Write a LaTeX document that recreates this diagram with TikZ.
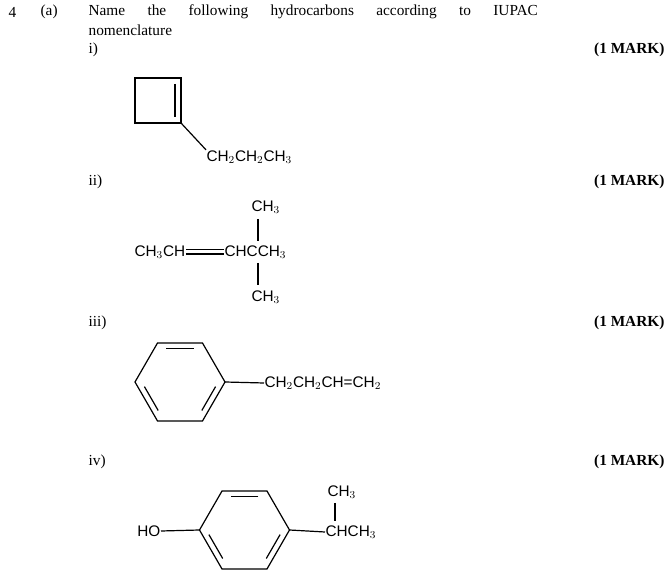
\documentclass[tikz,border=0pt]{standalone}
\usepackage{fontspec}
\setmainfont{Liberation Serif}
\newfontfamily\chemf{Liberation Sans}
\usetikzlibrary{calc}
\begin{document}
\begin{tikzpicture}[x=0.75pt,y=-0.75pt,line width=0.9pt,
 q/.style={font=\fontsize{11.5}{13}\selectfont,inner sep=0pt},
 mk/.style={q,anchor=east,font=\fontsize{11.5}{13}\selectfont\bfseries},
 ch/.style={font=\chemf\fontsize{11.5}{13}\selectfont,inner sep=0pt}]
\useasboundingbox (0,0) rectangle (669,577);
\node[q,anchor=west] (n4) at (8,12) {4};
\node[q,anchor=west] (na) at (40,12) {(a)};
\node[q,anchor=west] (t1) at (88,12) {\makebox[337pt][s]{Name the following hydrocarbons according to IUPAC}};
\node[q,anchor=west] (t2) at (88,30) {nomenclature};
\node[q,anchor=west] (r1) at (88,50) {i)};
\node[mk] (m1) at (665,50) {(1 MARK)};
\node[q,anchor=west] (r2) at (88,182) {ii)};
\node[mk] (m2) at (665,182) {(1 MARK)};
\node[q,anchor=west] (r3) at (88,323) {iii)};
\node[mk] (m3) at (665,323) {(1 MARK)};
\node[q,anchor=west] (r4) at (88,462) {iv)};
\node[mk] (m4) at (665,462) {(1 MARK)};
% i
\coordinate (c1) at (135,78); \coordinate (c2) at (181,78);
\coordinate (c3) at (181,123); \coordinate (c4) at (135,123);
\draw (c1)--(c2)--(c3)--(c4)--cycle;
\draw ([xshift=-4.5pt,yshift=-4.5pt]c2) -- ([xshift=-4.5pt,yshift=4.5pt]c3);
\node[ch,anchor=west] (p1) at (206,157) {CH$_2$CH$_2$CH$_3$};
\draw (c3) -- (p1.north west);
% ii
\node[ch,anchor=west] (a1) at (134,252) {CH$_3$CH};
\node[ch,anchor=west] (a2) at (224,252) {CHCCH$_3$};
\node[ch,anchor=west] (a3) at (251,207) {CH$_3$};
\node[ch,anchor=west] (a4) at (251,297) {CH$_3$};
\draw (258,219) -- (258,241);
\draw (258,263) -- (258,285);
\draw ([yshift=1.8pt]a1.east) -- ([yshift=1.8pt]a2.west);
\draw ([yshift=-1.5pt]a1.east) -- ([yshift=-1.5pt]a2.west);
% iii
\coordinate (bc) at (180,382);
\foreach \i/\a in {1/180,2/120,3/60,4/0,5/300,6/240}
  \coordinate (b\i) at ($(bc)+(\a:45)$);
\draw (b1)--(b2)--(b3)--(b4)--(b5)--(b6)--cycle;
\foreach \p/\q in {b1/b2,b3/b4,b5/b6}
  \draw[shorten <=4pt,shorten >=4pt] ($(bc)!0.85!(\p)$) -- ($(bc)!0.85!(\q)$);
\node[ch,anchor=west] (p3) at (264,383) {CH$_2$CH$_2$CH=CH$_2$};
\draw (b4) -- (p3.west);
% iv
\coordinate (dc) at (244.5,530);
\foreach \i/\a in {1/180,2/120,3/60,4/0,5/300,6/240}
  \coordinate (d\i) at ($(dc)+(\a:45)$);
\draw (d1)--(d2)--(d3)--(d4)--(d5)--(d6)--cycle;
\foreach \p/\q in {d1/d2,d3/d4,d5/d6}
  \draw[shorten <=4pt,shorten >=4pt] ($(dc)!0.85!(\p)$) -- ($(dc)!0.85!(\q)$);
\node[ch,anchor=east] (ho) at (161,531) {HO};
\draw (ho.east) -- (d1);
\node[ch,anchor=west] (p4) at (325,532) {CHCH$_3$};
\draw (d4) -- (p4.west);
\node[ch,anchor=west] (p5) at (327,492) {CH$_3$};
\draw (335,503) -- (335,521);
\end{tikzpicture}
\end{document}
